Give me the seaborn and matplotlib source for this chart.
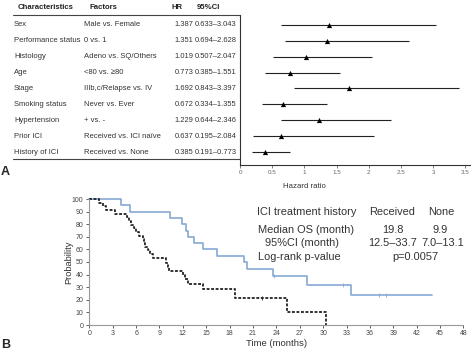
import numpy as np
import pandas as pd
import matplotlib
matplotlib.use("Agg")
import matplotlib.pyplot as plt
import seaborn as sns

# ---------------- data ----------------
characteristics = ["Sex", "Performance status", "Histology", "Age", "Stage",
                   "Smoking status", "Hypertension", "Prior ICI", "History of ICI"]
factors = ["Male vs. Female", "0 vs. 1", "Adeno vs. SQ/Others", "<80 vs. \u226580",
           "IIIb,c/Relapse vs. IV", "Never vs. Ever", "+ vs. -",
           "Received vs. ICI naïve", "Received vs. None"]
hr = [1.387, 1.351, 1.019, 0.773, 1.692, 0.672, 1.229, 0.637, 0.385]
ci_low = [0.633, 0.694, 0.507, 0.385, 0.843, 0.334, 0.644, 0.195, 0.191]
ci_high = [3.043, 2.628, 2.047, 1.551, 3.397, 1.355, 2.346, 2.084, 0.773]
hr_ticks = [0, 0.5, 1, 1.5, 2, 2.5, 3, 3.5]
hr_tick_labels = ["0", "0.5", "1", "1.5", "2", "2.5", "3", "3.5"]

received_t = [0, 4.05, 5.2, 10.3, 11.9, 12.4, 12.7, 13.4, 14.6, 16.4, 19.8, 20.2,
              23.5, 27.9, 33.6, 43.9]
received_s = [100, 95, 90, 85, 80, 75, 70, 65, 60, 55, 50, 44.5, 38.5, 31.5, 24, 24]
received_cens_t = [23.7, 32.5, 37.2, 38.0]
received_cens_s = [38.5, 31.5, 24, 24]

none_t = [0, 1.3, 1.7, 2.2, 3.3, 4.8, 5.1, 5.4, 5.7, 6.0, 6.4, 6.9, 7.05, 7.2, 7.5,
          7.8, 8.2, 9.9, 10.05, 10.2, 12.0, 12.3, 12.7, 14.6, 18.7, 25.3, 30.4]
none_s = [100, 97.1, 94.2, 91.3, 88.4, 85.5, 82.6, 79.7, 76.8, 73.9, 71.0, 68.1,
          65.2, 62.3, 59.4, 56.5, 52.8, 49.5, 46.3, 43.1, 40.0, 36.4, 32.8, 28.3,
          21.2, 10.6, 0]
none_cens_t = [22.2]
none_cens_s = [21.2]

km_xticks = list(range(0, 49, 3))
km_yticks = list(range(0, 101, 10))

stats_header = ["ICI treatment history", "Received", "None"]
stats_median = ["Median OS (month)", "19.8", "9.9"]
stats_ci = ["95%CI (month)", "12.5\u201333.7", "7.0\u201313.1"]
stats_p = ["Log-rank p-value", "p=0.0057"]

# ---------------- style ----------------
sns.set_style("white")
plt.rcParams['font.family'] = ['Liberation Sans', 'DejaVu Sans']

W, H = 474, 355
fig = plt.figure(figsize=(W / 100, H / 100), dpi=100)


def box(l, t, r, b):
    return [l / W, 1 - b / H, (r - l) / W, (b - t) / H]


def fx(x):
    return x / W


def fy(y):
    return 1 - y / H


YLIM = (8.8, -0.61)

# ---------------- table (panel A left) ----------------
ax_t = fig.add_axes(box(0, 15, 240, 165))
ax_t.set_xlim(0, 240)
ax_t.set_ylim(*YLIM)
ax_t.axis("off")
hdr_y = -1.05
hdr_kw = dict(fontsize=5.6, weight="bold", color="#222222", va="center",
              ha="left", clip_on=False)
ax_t.text(18, hdr_y, "Characteristics", **hdr_kw)
ax_t.text(89, hdr_y, "Factors", **hdr_kw)
ax_t.text(172, hdr_y, "HR", **hdr_kw)
ax_t.text(197, hdr_y, "95%CI", **hdr_kw)
row_kw = dict(fontsize=5.5, color="#333333", va="center", ha="left", clip_on=False)
num_kw = dict(fontsize=5.4, color="#333333", va="center", ha="left", clip_on=False)
for i in range(len(characteristics)):
    ax_t.text(14, i, characteristics[i], **row_kw)
    ax_t.text(84, i, factors[i], **row_kw)
    ax_t.text(174.5, i, f"{hr[i]:.3f}", **num_kw)
    ax_t.text(194.5, i, f"{ci_low[i]:.3f}\u2013{ci_high[i]:.3f}", **num_kw)
ax_t.plot([13, 240], [-0.61, -0.61], color="#444444", lw=0.8, clip_on=False)
ax_t.plot([13, 240], [8.44, 8.44], color="#444444", lw=0.8, clip_on=False)

# ---------------- forest plot ----------------
ax_f = fig.add_axes(box(240, 15, 470, 165))
df_f = pd.DataFrame({"row": np.arange(len(hr)), "hr": hr,
                     "lo": ci_low, "hi": ci_high})
ax_f.hlines(df_f["row"], df_f["lo"], df_f["hi"], color="#222222", lw=0.8)
sns.scatterplot(data=df_f, x="hr", y="row", marker="^", color="black", s=14,
                linewidth=0, legend=False, ax=ax_f, zorder=3)
ax_f.set_xlim(0, 3.57)
ax_f.set_ylim(*YLIM)
ax_f.set_yticks([])
ax_f.set_ylabel("")
ax_f.set_xticks(hr_ticks)
ax_f.set_xticklabels(hr_tick_labels)
ax_f.tick_params(axis="x", length=2, width=0.6, pad=1.5, labelsize=4.5,
                 colors="#666666", bottom=True, direction="out")
for s in ["top", "right"]:
    ax_f.spines[s].set_visible(False)
for s in ["left", "bottom"]:
    ax_f.spines[s].set_color("#333333")
    ax_f.spines[s].set_linewidth(0.8)
ax_f.set_xlabel("Hazard ratio", fontsize=5.6, color="#333333")
ax_f.xaxis.set_label_coords(0.278, -0.118)

# ---------------- KM plot ----------------
ax_k = fig.add_axes(box(89.3, 199, 463.5, 325))
sns.lineplot(x=received_t, y=received_s, drawstyle="steps-post", color="#86a8d4",
             lw=1.2, estimator=None, sort=False, ax=ax_k, clip_on=False)
sns.lineplot(x=none_t, y=none_s, drawstyle="steps-post", color="#222222",
             lw=1.3, linestyle=(0, (1.6, 0.9)), estimator=None, sort=False,
             ax=ax_k, clip_on=False)
sns.scatterplot(x=received_cens_t, y=received_cens_s, marker="|", s=6,
                color="#86a8d4", linewidth=0.6, legend=False, ax=ax_k)
sns.scatterplot(x=none_cens_t, y=none_cens_s, marker="|", s=6,
                color="#222222", linewidth=0.6, legend=False, ax=ax_k)
ax_k.set_xlim(0, 48)
ax_k.set_ylim(0, 100)
ax_k.set_xticks(km_xticks)
ax_k.set_yticks(km_yticks)
ax_k.tick_params(axis="both", length=2, width=0.6, labelsize=5, colors="#444444",
                 direction="out", bottom=True, left=True)
ax_k.tick_params(axis="x", pad=1.5)
ax_k.tick_params(axis="y", pad=2.3)
for s in ["top", "right"]:
    ax_k.spines[s].set_visible(False)
for s in ["left", "bottom"]:
    ax_k.spines[s].set_color("#999999")
    ax_k.spines[s].set_linewidth(0.8)
ax_k.set_xlabel("Time (months)", fontsize=6.8, color="#333333")
ax_k.xaxis.set_label_coords(0.5, -0.11)
ax_k.set_ylabel("Probability", fontsize=6.7, color="#333333")
ax_k.yaxis.set_label_coords(-0.0436, 0.5)

# stats text
tk = dict(fontsize=7.9, color="#333333", va="center")
fig.text(fx(257.3), fy(211.7), stats_header[0], ha="left", **tk)
fig.text(fx(392), fy(211.7), stats_header[1], ha="center", **tk)
fig.text(fx(441.3), fy(211.7), stats_header[2], ha="center", **tk)
fig.text(fx(258), fy(230), stats_median[0], ha="left", **tk)
fig.text(fx(392.5), fy(230), stats_median[1], ha="center", **tk)
fig.text(fx(440.3), fy(230), stats_median[2], ha="center", **tk)
fig.text(fx(264.7), fy(243.3), stats_ci[0], ha="left", **tk)
fig.text(fx(393), fy(243.3), stats_ci[1], ha="center", **tk)
fig.text(fx(442.8), fy(243.3), stats_ci[2], ha="center", **tk)
fig.text(fx(258), fy(257.3), stats_p[0], ha="left", **tk)
fig.text(fx(415.8), fy(257.3), stats_p[1], ha="center", **tk)

# panel labels
fig.text(fx(1), fy(171.7), "A", fontsize=9, weight="bold", ha="left", va="center")
fig.text(fx(1), fy(345), "B", fontsize=9, weight="bold", ha="left", va="center")

fig.savefig("out.png", dpi=100)
